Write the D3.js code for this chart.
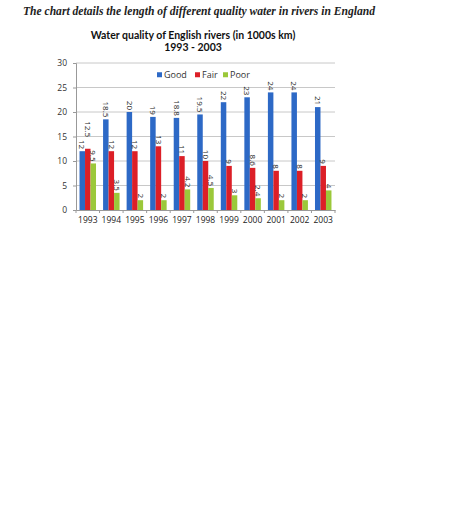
<!DOCTYPE html>
<html>
<head>
<meta charset="utf-8">
<script src="https://cdn.jsdelivr.net/npm/d3@7"></script>
<style>
  body { margin: 0; background: #fff; }
  svg { display: block; }
</style>
</head>
<body>
<svg id="chart"></svg>
<script>
const years = ['1993', '1994', '1995', '1996', '1997', '1998', '1999', '2000', '2001', '2002', '2003'];
const seriesNames = ['Good', 'Fair', 'Poor'];
const good = [12, 18.5, 20, 19, 18.8, 19.5, 22, 23, 24, 24, 21];
const fair = [12.5, 12, 12, 13, 11, 10, 9, 8.6, 8, 8, 9];
const poor = [9.5, 3.5, 2, 2, 4.2, 4.5, 3, 2.4, 2, 2, 4];
const yTicks = [0, 5, 10, 15, 20, 25, 30];

const seriesValues = [good, fair, poor];
const colors = ['#2d69c6', '#dc1f27', '#9bc83a'];

const width = 475, height = 512;
const margin = { left: 76, right: 140, top: 63, bottom: 302 };

const svg = d3.select('#chart')
    .attr('width', width)
    .attr('height', height);

// Page heading
svg.append('text')
    .attr('x', 199)
    .attr('y', 15)
    .attr('text-anchor', 'middle')
    .style('font-family', '"Liberation Serif", "DejaVu Serif", serif')
    .style('font-style', 'italic')
    .style('font-weight', 'bold')
    .style('font-size', '11.6px')
    .style('fill', '#222')
    .text('The chart details the length of different quality water in rivers in England');

// Chart title
svg.append('text')
    .attr('x', 193)
    .attr('y', 39)
    .attr('text-anchor', 'middle')
    .style('font-family', 'Lato, sans-serif')
    .style('font-weight', 'bold')
    .style('font-size', '10.5px')
    .style('fill', '#111')
    .text('Water quality of English rivers (in 1000s km)');

svg.append('text')
    .attr('x', 193)
    .attr('y', 51)
    .attr('text-anchor', 'middle')
    .style('font-family', 'Lato, sans-serif')
    .style('font-weight', 'bold')
    .style('font-size', '10.5px')
    .style('fill', '#111')
    .text('1993 - 2003');

const x0 = d3.scaleBand()
    .domain(years)
    .range([margin.left, width - margin.right])
    .paddingInner(0.3)
    .paddingOuter(0.15);

const x1 = d3.scaleBand()
    .domain(seriesNames)
    .range([0, x0.bandwidth()]);

const y = d3.scaleLinear()
    .domain([0, 30])
    .range([height - margin.bottom, margin.top]);

// Gridlines
svg.append('g')
    .selectAll('line')
    .data(yTicks.slice(1))
    .enter().append('line')
    .attr('x1', margin.left)
    .attr('x2', width - margin.right)
    .attr('y1', d => y(d))
    .attr('y2', d => y(d))
    .attr('stroke', '#c8c8c8')
    .attr('stroke-width', 1);

// Y axis
const yAxis = svg.append('g')
    .attr('transform', `translate(${margin.left},0)`)
    .call(d3.axisLeft(y).tickValues(yTicks).tickSize(3).tickPadding(6));
yAxis.select('.domain').attr('stroke', '#999');
yAxis.selectAll('.tick line').attr('stroke', '#999');
yAxis.selectAll('text')
    .style('font-family', '"Open Sans", sans-serif')
    .style('font-size', '8.5px')
    .style('fill', '#333');

// Bars
const groups = svg.append('g')
    .selectAll('g')
    .data(years)
    .enter().append('g')
    .attr('transform', d => `translate(${x0(d)},0)`);

groups.selectAll('rect')
    .data((d, i) => seriesNames.map((s, k) => ({ s, k, v: seriesValues[k][i] })))
    .enter().append('rect')
    .attr('x', d => x1(d.s))
    .attr('y', d => y(d.v))
    .attr('width', x1.bandwidth())
    .attr('height', d => y(0) - y(d.v))
    .attr('fill', d => colors[d.k]);

// Value labels, rotated; push a label up if it would collide with the previous one
groups.each(function(year, i) {
    let prevTop = null, prevBottom = null;
    seriesNames.forEach((s, k) => {
        const v = seriesValues[k][i];
        const t = d3.select(this).append('text')
            .attr('text-anchor', 'end')
            .attr('dy', '0.35em')
            .style('font-family', '"Open Sans", sans-serif')
            .style('font-size', '8px')
            .style('fill', '#222')
            .text(v);
        const len = t.node().getComputedTextLength();
        let bottom = y(v) - 2;
        let top = bottom - len;
        if (prevTop !== null && top < prevBottom && bottom > prevTop) {
            bottom = prevTop - 3;
            top = bottom - len;
        }
        t.attr('transform', `translate(${x1(s) + x1.bandwidth() / 2},${bottom}) rotate(90)`);
        prevTop = top;
        prevBottom = bottom;
    });
});

// X axis
const xAxis = svg.append('g')
    .attr('transform', `translate(0,${y(0)})`)
    .call(d3.axisBottom(x0).tickSize(0).tickPadding(7));
xAxis.select('.domain').attr('stroke', '#999');
xAxis.selectAll('text')
    .style('font-family', '"Open Sans", sans-serif')
    .style('font-size', '8.5px')
    .style('fill', '#222');

// Category boundary ticks
const step = x0.step();
xAxis.append('g')
    .selectAll('line')
    .data(d3.range(years.length + 1))
    .enter().append('line')
    .attr('x1', i => margin.left + i * step)
    .attr('x2', i => margin.left + i * step)
    .attr('y1', 0)
    .attr('y2', 3)
    .attr('stroke', '#999');

// Legend
const legendX = [157, 195, 223];
const legend = svg.append('g')
    .selectAll('g')
    .data(seriesNames)
    .enter().append('g')
    .attr('transform', (d, i) => `translate(${legendX[i]},${y(27.5)})`);

legend.append('rect')
    .attr('x', 0)
    .attr('y', -3)
    .attr('width', 5)
    .attr('height', 5)
    .attr('fill', (d, i) => colors[i]);

legend.append('text')
    .attr('x', 7)
    .attr('y', 0)
    .attr('dy', '0.33em')
    .style('font-family', '"Open Sans", sans-serif')
    .style('font-size', '9px')
    .style('fill', '#333')
    .text(d => d);
</script>
</body>
</html>
